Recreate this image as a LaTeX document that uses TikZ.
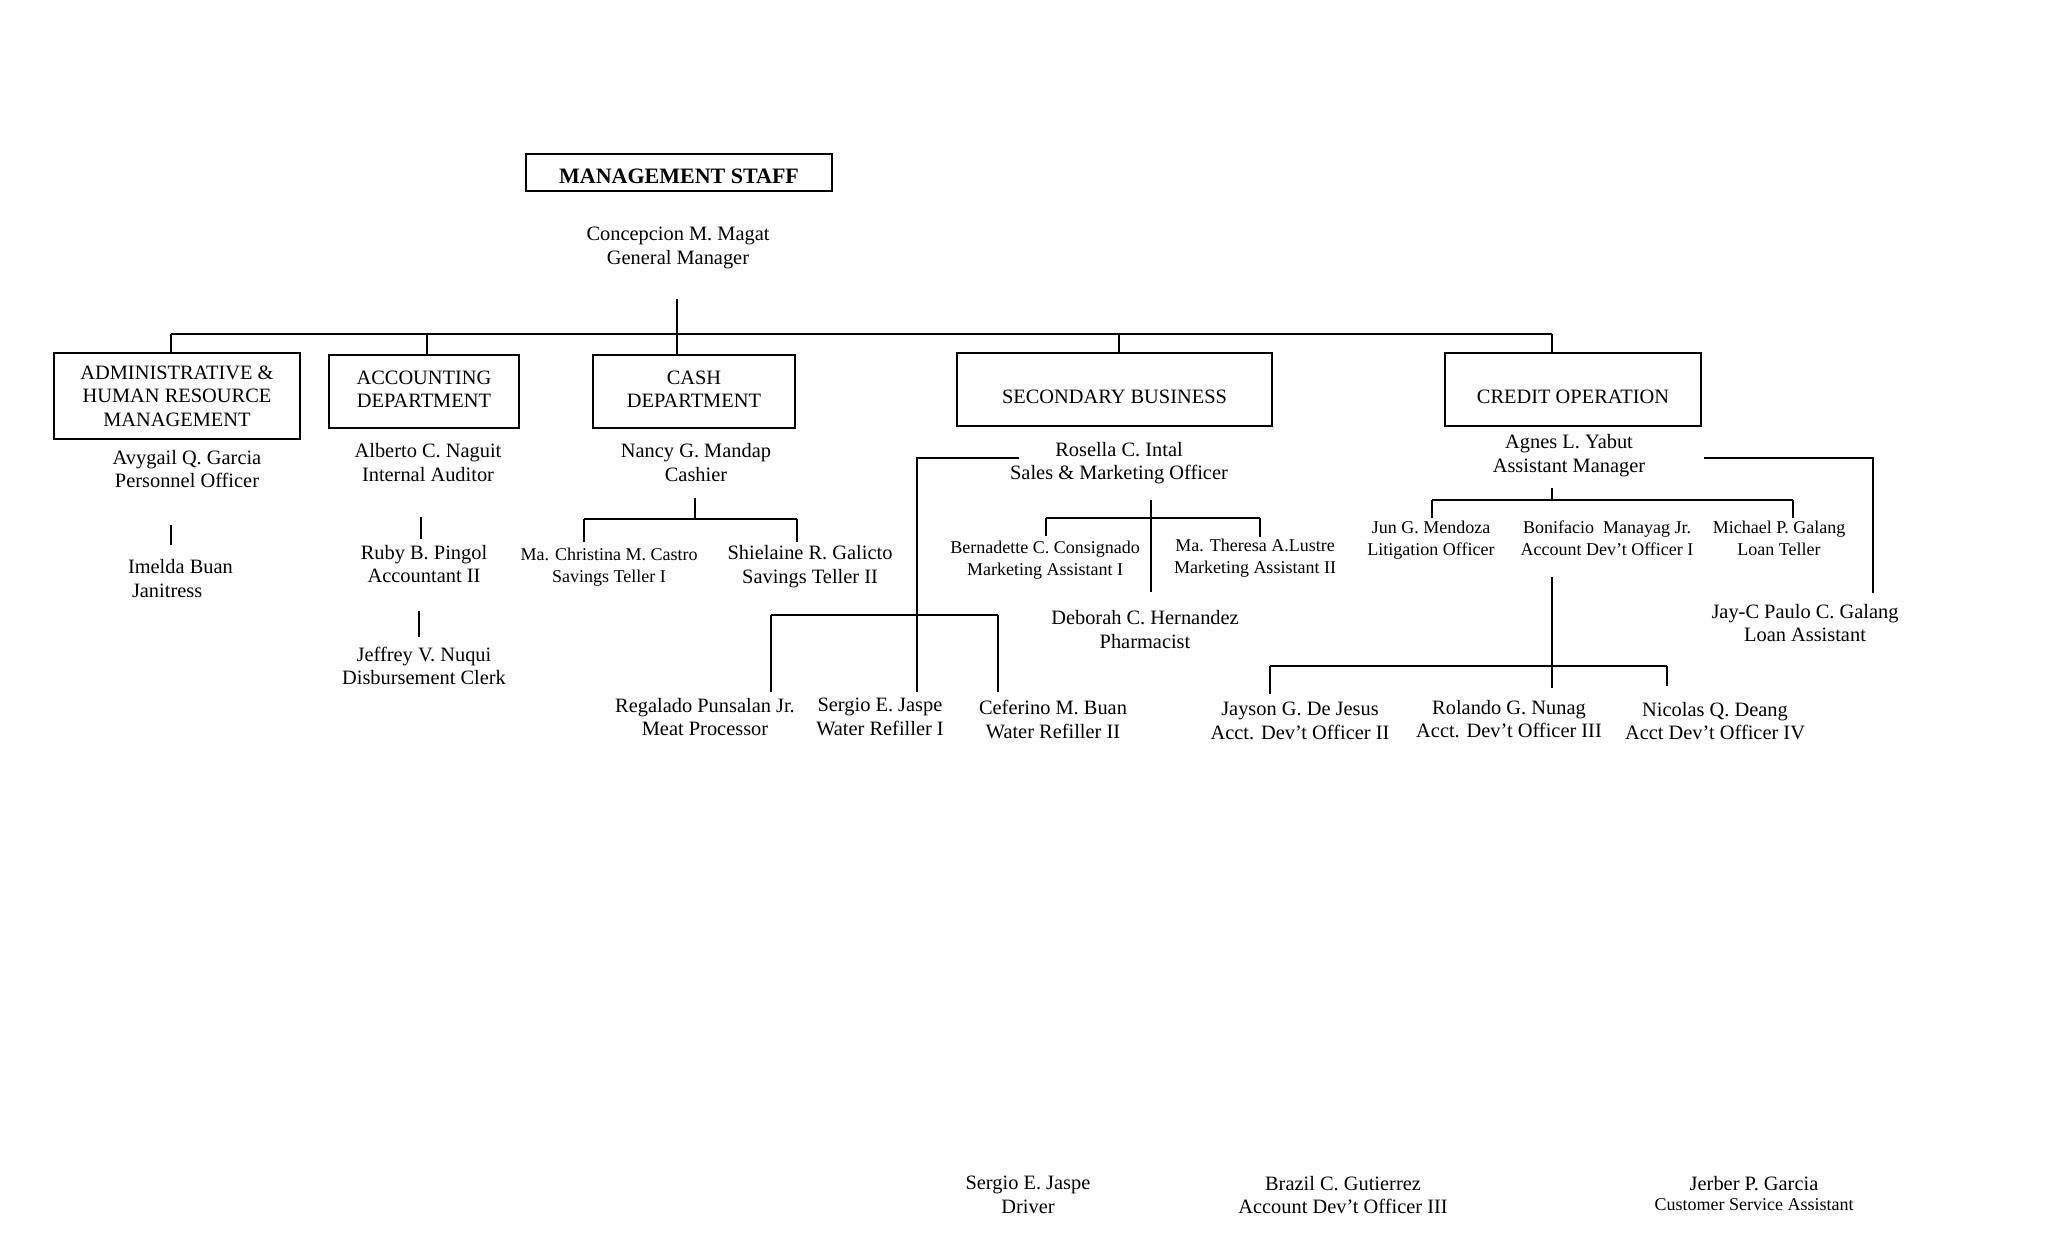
\documentclass[tikz,border=0pt]{standalone}
\usepackage{fontspec}
\setmainfont{Liberation Serif}
\begin{document}
\begin{tikzpicture}[x=0.5pt,y=-0.5pt,
 every node/.style={inner sep=0pt, outer sep=0pt},
 txt/.style={align=center, font=\fontsize{10.2pt}{11.75pt}\selectfont},
 stxt/.style={align=center, font=\fontsize{9pt}{11pt}\selectfont},
 box/.style={draw, line width=0.75pt, align=center, font=\fontsize{10.2pt}{11.75pt}\selectfont},
 ln/.style={line width=0.9pt}]
\useasboundingbox (0,0) rectangle (2048,1243);

% top
\node[box, minimum width=153pt, minimum height=18.5pt, font=\bfseries\fontsize{11pt}{13pt}\selectfont] (ms) at (679,172.5) {\rule{0pt}{11.3pt}MANAGEMENT STAFF};
\node[txt] (gm) at (678,248) {Concepcion M. Magat\\General Manager};

% department boxes
\node[box, minimum width=123pt, minimum height=43pt] (adm) at (177,396) {ADMINISTRATIVE \&\\HUMAN RESOURCE\\MANAGEMENT};
\node[box, minimum width=95pt, minimum height=36.5pt] (acc) at (424,391.5) {\begin{tabular}{@{}c@{}}ACCOUNTING\\DEPARTMENT\end{tabular}};
\node[box, minimum width=101pt, minimum height=36.5pt] (cash) at (694,391.5) {\begin{tabular}{@{}c@{}}CASH\\DEPARTMENT\end{tabular}};
\node[box, minimum width=157.5pt, minimum height=36.5pt] (sec) at (1114.5,389.5) {\rule{0pt}{14.5pt}SECONDARY BUSINESS};
\node[box, minimum width=128pt, minimum height=36.5pt] (cred) at (1573,389.5) {\rule{0pt}{14.5pt}CREDIT OPERATION};

% people
\node[txt] (avy) at (187,469) {Avygail Q. Garcia\\Personnel Officer};
\node[txt, align=left, anchor=west] (ime) at (128,578.5) {Imelda Buan\\\hspace{2pt}Janitress};
\node[txt] (alb) at (428,462.5) {Alberto C. Naguit\\Internal Auditor};
\node[txt] (ruby) at (424,564) {Ruby B. Pingol\\Accountant II};
\node[txt] (jef) at (424,666) {Jeffrey V. Nuqui\\Disbursement Clerk};
\node[txt] (nan) at (696,462.5) {Nancy G. Mandap\\Cashier};
\node[stxt] (chr) at (609,567) {Ma. Christina M. Castro\\Savings Teller I};
\node[txt] (shi) at (810,566.5) {Shielaine R. Galicto\\Savings Teller II};
\node[txt] (ros) at (1119,463) {Rosella C. Intal\\Sales \& Marketing Officer};
\node[stxt] (ber) at (1045,560.5) {Bernadette C. Consignado\\Marketing Assistant I};
\node[stxt] (the) at (1255,558) {Ma. Theresa A.Lustre\\Marketing Assistant II};
\node[txt] (deb) at (1145,629.5) {Deborah C. Hernandez\\Pharmacist};
\node[txt] (reg) at (705,717) {Regalado Punsalan Jr.\\Meat Processor};
\node[txt] (ser) at (880,717) {Sergio E. Jaspe\\Water Refiller I};
\node[txt] (cef) at (1053,719.5) {Ceferino M. Buan\\Water Refiller II};
\node[txt] (agn) at (1569,455.5) {Agnes L. Yabut\\Assistant Manager};
\node[stxt] (jun) at (1431,540.5) {Jun G. Mendoza\\Litigation Officer};
\node[stxt] (bon) at (1607,538.5) {Bonifacio\ \ Manayag Jr.\\Account Dev’t Officer I};
\node[stxt] (mic) at (1779,538.5) {Michael P. Galang\\Loan Teller};
\node[txt] (jay) at (1805,623) {Jay-C Paulo C. Galang\\Loan Assistant};
\node[txt] (jys) at (1300,721) {Jayson G. De Jesus\\Acct. Dev’t Officer II};
\node[txt] (rol) at (1509,719) {Rolando G. Nunag\\Acct. Dev’t Officer III};
\node[txt] (nic) at (1715,721) {Nicolas Q. Deang\\Acct Dev’t Officer IV};
\node[txt] (drv) at (1028,1195) {Sergio E. Jaspe\\Driver};
\node[txt] (bra) at (1343,1195) {Brazil C. Gutierrez\\Account Dev’t Officer III};
\node[txt] (jer) at (1754,1193.5) {Jerber P. Garcia\\[-1.3pt]{\fontsize{9pt}{11pt}\selectfont Customer Service Assistant}};

% connector points
\coordinate (gmB) at (677,299);
\coordinate (dAdm) at (171,334);
\coordinate (dAcc) at (427,334);
\coordinate (dSec) at (1119,334);
\coordinate (dCred) at (1552,334);

% top bus
\draw[ln] (dAdm) -- (dCred);
\draw[ln] (gmB) -- (gmB |- cash.north);
\draw[ln] (dAdm) -- (dAdm |- adm.north);
\draw[ln] (dAcc) -- (dAcc |- acc.north);
\draw[ln] (dSec) -- (dSec |- sec.north);
\draw[ln] (dCred) -- (dCred |- cred.north);

% admin
\coordinate (a1) at (171,525); \coordinate (a2) at (171,545);
\draw[ln] (a1) -- (a2);

% accounting
\coordinate (c1) at (421,517); \coordinate (c2) at (421,539);
\coordinate (c3) at (419,611); \coordinate (c4) at (419,637);
\draw[ln] (c1) -- (c2);
\draw[ln] (c3) -- (c4);

% cash
\coordinate (k1) at (695,498); \coordinate (k2) at (695,519);
\coordinate (kL) at (584,519); \coordinate (kR) at (797,519);
\draw[ln] (k1) -- (k2);
\draw[ln] (kL) -- (kR);
\draw[ln] (kL) -- ++(0,23);
\draw[ln] (kR) -- ++(0,23);

% secondary business
\coordinate (r1) at (1019,458); \coordinate (r2) at (917,458); \coordinate (r3) at (917,692);
\draw[ln] (r1) -- (r2) -- (r3);
\coordinate (wL) at (771,615); \coordinate (wR) at (998,615);
\draw[ln] (wL) -- (wR);
\draw[ln] (wL) -- ++(0,77);
\draw[ln] (wR) -- ++(0,77);
\coordinate (s1) at (1151,500); \coordinate (s2) at (1151,592);
\draw[ln] (s1) -- (s2);
\coordinate (mL) at (1046,518); \coordinate (mR) at (1260,518);
\draw[ln] (mL) -- (mR);
\draw[ln] (mL) -- ++(0,18);
\draw[ln] (mR) -- ++(0,19);

% credit operation
\coordinate (y1) at (1704,458); \coordinate (y2) at (1873,458); \coordinate (y3) at (1873,593);
\draw[ln] (y1) -- (y2) -- (y3);
\coordinate (g1) at (1552,488); \coordinate (g2) at (1552,500);
\draw[ln] (g1) -- (g2);
\coordinate (gL) at (1432,500); \coordinate (gR) at (1793,500);
\draw[ln] (gL) -- (gR);
\draw[ln] (gL) -- ++(0,18);
\draw[ln] (gR) -- ++(0,18);
\coordinate (h1) at (1552,577); \coordinate (h2) at (1552,688);
\draw[ln] (h1) -- (h2);
\coordinate (hL) at (1270,666); \coordinate (hR) at (1667,666);
\draw[ln] (hL) -- (hR);
\draw[ln] (hL) -- ++(0,28);
\draw[ln] (hR) -- ++(0,20);
\end{tikzpicture}
\end{document}
